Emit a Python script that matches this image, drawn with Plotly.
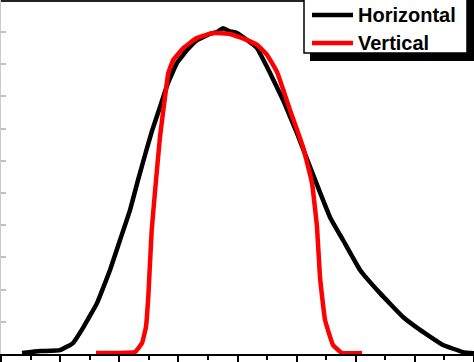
import plotly.graph_objects as go

# ---- data ----
horiz_x = [0.355, 0.660, 0.998, 1.218, 1.387, 1.624, 1.844, 2.013, 2.182, 2.317, 2.436, 2.554,
           2.689, 2.825, 2.977, 3.146, 3.315, 3.535, 3.653, 3.755, 3.856, 3.992, 4.161, 4.330,
           4.550, 4.770, 5.006, 5.226, 5.564, 5.784, 6.072, 6.410, 6.799, 7.087, 7.476, 7.814, 8.0]
horiz_y = [0.003, 0.009, 0.012, 0.034, 0.081, 0.158, 0.261, 0.354, 0.447, 0.540, 0.618, 0.693,
           0.767, 0.842, 0.904, 0.944, 0.975, 0.994, 1.000, 1.012, 1.003, 0.997, 0.975, 0.950,
           0.873, 0.789, 0.686, 0.581, 0.425, 0.354, 0.261, 0.189, 0.115, 0.075, 0.028, 0.006, 0.002]

vert_x = [1.607, 2.013, 2.266, 2.385, 2.452, 2.491, 2.549, 2.622, 2.689, 2.774, 2.830, 2.914,
          3.083, 3.310, 3.586, 3.873, 4.161, 4.330, 4.499, 4.668, 4.888, 5.108, 5.260, 5.345,
          5.395, 5.480, 5.615, 5.767, 6.106]
vert_y = [0.003, 0.003, 0.006, 0.034, 0.084, 0.177, 0.385, 0.540, 0.674, 0.798, 0.873, 0.913,
          0.950, 0.981, 0.997, 0.994, 0.975, 0.960, 0.929, 0.876, 0.758, 0.643, 0.531, 0.394,
          0.239, 0.106, 0.028, 0.003, 0.003]

series_names = ["Horizontal", "Vertical"]
series_colors = ["#000000", "#ff0000"]

W, H = 474, 362
ML, MR, MT, MB = 1, 0, 0, 8
PW, PH = W - ML - MR, H - MT - MB


def px_x(p):
    return (p - ML) / PW


def px_y(p):
    return (H - MB - p) / PH


fig = go.Figure()
for xs, ys, name, col in [(horiz_x, horiz_y, series_names[0], series_colors[0]),
                          (vert_x, vert_y, series_names[1], series_colors[1])]:
    fig.add_trace(go.Scatter(x=xs, y=ys, mode="lines", name=name,
                             line=dict(color=col, width=4.5, shape="spline", smoothing=0.3),
                             showlegend=False))

shapes = [
    # top frame line
    dict(type="line", xref="paper", yref="paper", x0=0, x1=1, y0=1, y1=1,
         line=dict(color="#222222", width=4)),
    # legend shadow
    dict(type="rect", xref="paper", yref="paper", x0=px_x(310), x1=px_x(474),
         y0=px_y(61), y1=px_y(-5), fillcolor="#000000", line=dict(width=0)),
    # legend box
    dict(type="rect", xref="paper", yref="paper", x0=px_x(304), x1=px_x(467),
         y0=px_y(53), y1=px_y(-5), fillcolor="#ffffff", line=dict(color="#000000", width=1.5)),
]
annotations = []
for i, (name, col) in enumerate(zip(series_names, series_colors)):
    yy = 15 + i * 28
    shapes.append(dict(type="line", xref="paper", yref="paper", x0=px_x(312), x1=px_x(353),
                       y0=px_y(yy), y1=px_y(yy), line=dict(color=col, width=4.5)))
    annotations.append(dict(xref="paper", yref="paper", x=px_x(356), y=px_y(yy),
                            xanchor="left", yanchor="middle", text=name, showarrow=False,
                            font=dict(family="Liberation Sans, Arial", size=20,
                                      color="#000000", weight="bold")))

fig.update_layout(
    width=W, height=H,
    margin=dict(l=ML, r=MR, t=MT, b=MB, pad=0),
    plot_bgcolor="#ffffff", paper_bgcolor="#ffffff",
    shapes=shapes, annotations=annotations,
    xaxis=dict(range=[0, 8], showgrid=False, zeroline=False, showticklabels=False,
               showline=True, linecolor="#000000", linewidth=2,
               ticks="outside", ticklen=8, tickwidth=1.5, tickcolor="#000000",
               dtick=1, tick0=0,
               minor=dict(dtick=0.5, ticks="outside", ticklen=4, tickwidth=1.5,
                          tickcolor="#000000", showgrid=False)),
    yaxis=dict(range=[0, PH / 322.0], showgrid=False, zeroline=False, showticklabels=False,
               showline=True, linecolor="#c8c8c8", linewidth=2.5,
               ticks="inside", ticklen=5, tickwidth=1.5, tickcolor="#c0c0c0",
               dtick=0.1, tick0=0),
)

fig.write_html("out.html", config={"displayModeBar": False},
               post_script="document.body.style.margin='0';document.body.style.overflow='hidden';")
